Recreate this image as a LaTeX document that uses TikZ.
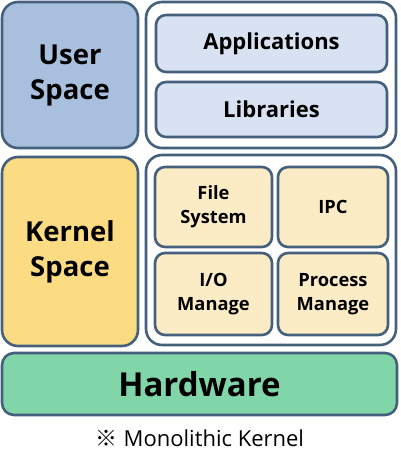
\documentclass[tikz,border=0pt]{standalone}
\usepackage{fontspec}
\setmainfont{Open Sans}
\newfontfamily\cjkfont{Noto Sans CJK KR}
\definecolor{edge}{RGB}{68,96,124}
\definecolor{userfill}{RGB}{168,192,222}
\definecolor{userin}{RGB}{216,226,242}
\definecolor{kernfill}{RGB}{252,220,130}
\definecolor{kernin}{RGB}{252,236,198}
\definecolor{hwfill}{RGB}{128,214,168}
\begin{document}
\begin{tikzpicture}[x=1pt,y=-1pt,
  blk/.style={draw=edge,line width=2.6pt,rounded corners=#1,inner sep=0pt,align=center},
  blk/.default=16pt,
  bigtxt/.style={font=\fontsize{27.5}{35}\selectfont\bfseries},
  midtxt/.style={font=\fontsize{22}{26}\selectfont\bfseries},
  smltxt/.style={font=\fontsize{18.3}{24}\selectfont\bfseries}]
\useasboundingbox (0,0) rectangle (400,466);
% user level
\node[blk,fill=userfill,minimum width=136pt,minimum height=146pt,bigtxt] (user) at (70,75) {User\\Space};
\node[blk,fill=white,minimum width=250pt,minimum height=146pt] (userbox) at (271,75) {};
\node[blk=10pt,fill=userin,minimum width=231pt,minimum height=57pt,midtxt] (apps) at (271.5,43.5) {Applications};
\node[blk=10pt,fill=userin,minimum width=231pt,minimum height=55pt,midtxt] (libs) at (271.5,109.5) {Libraries};
% kernel level
\node[blk,fill=kernfill,minimum width=136pt,minimum height=189pt,bigtxt] (kernel) at (70,251.5) {Kernel\\Space};
\node[blk,fill=white,minimum width=250pt,minimum height=190pt] (kernbox) at (271,250) {};
\node[blk=10pt,fill=kernin,minimum width=117pt,minimum height=80pt,smltxt] (fs) at (213.5,207) {File\\System};
\node[blk=10pt,fill=kernin,minimum width=110pt,minimum height=80pt,smltxt] (ipc) at (333,207) {IPC};
\node[blk=10pt,fill=kernin,minimum width=117pt,minimum height=82pt,smltxt] (io) at (213.5,294) {I/O\\Manage};
\node[blk=10pt,fill=kernin,minimum width=110pt,minimum height=82pt,smltxt] (pm) at (333,294) {Process\\Manage};
% hardware
\node[blk=12pt,fill=hwfill,minimum width=395pt,minimum height=62pt,font=\fontsize{33}{40}\selectfont\bfseries] (hw) at (199.5,384) {Hardware};
\node[font=\fontsize{22}{26}\selectfont,inner sep=0pt] (cap) at (200,438) {{\cjkfont ※} Monolithic Kernel};
\end{tikzpicture}
\end{document}
